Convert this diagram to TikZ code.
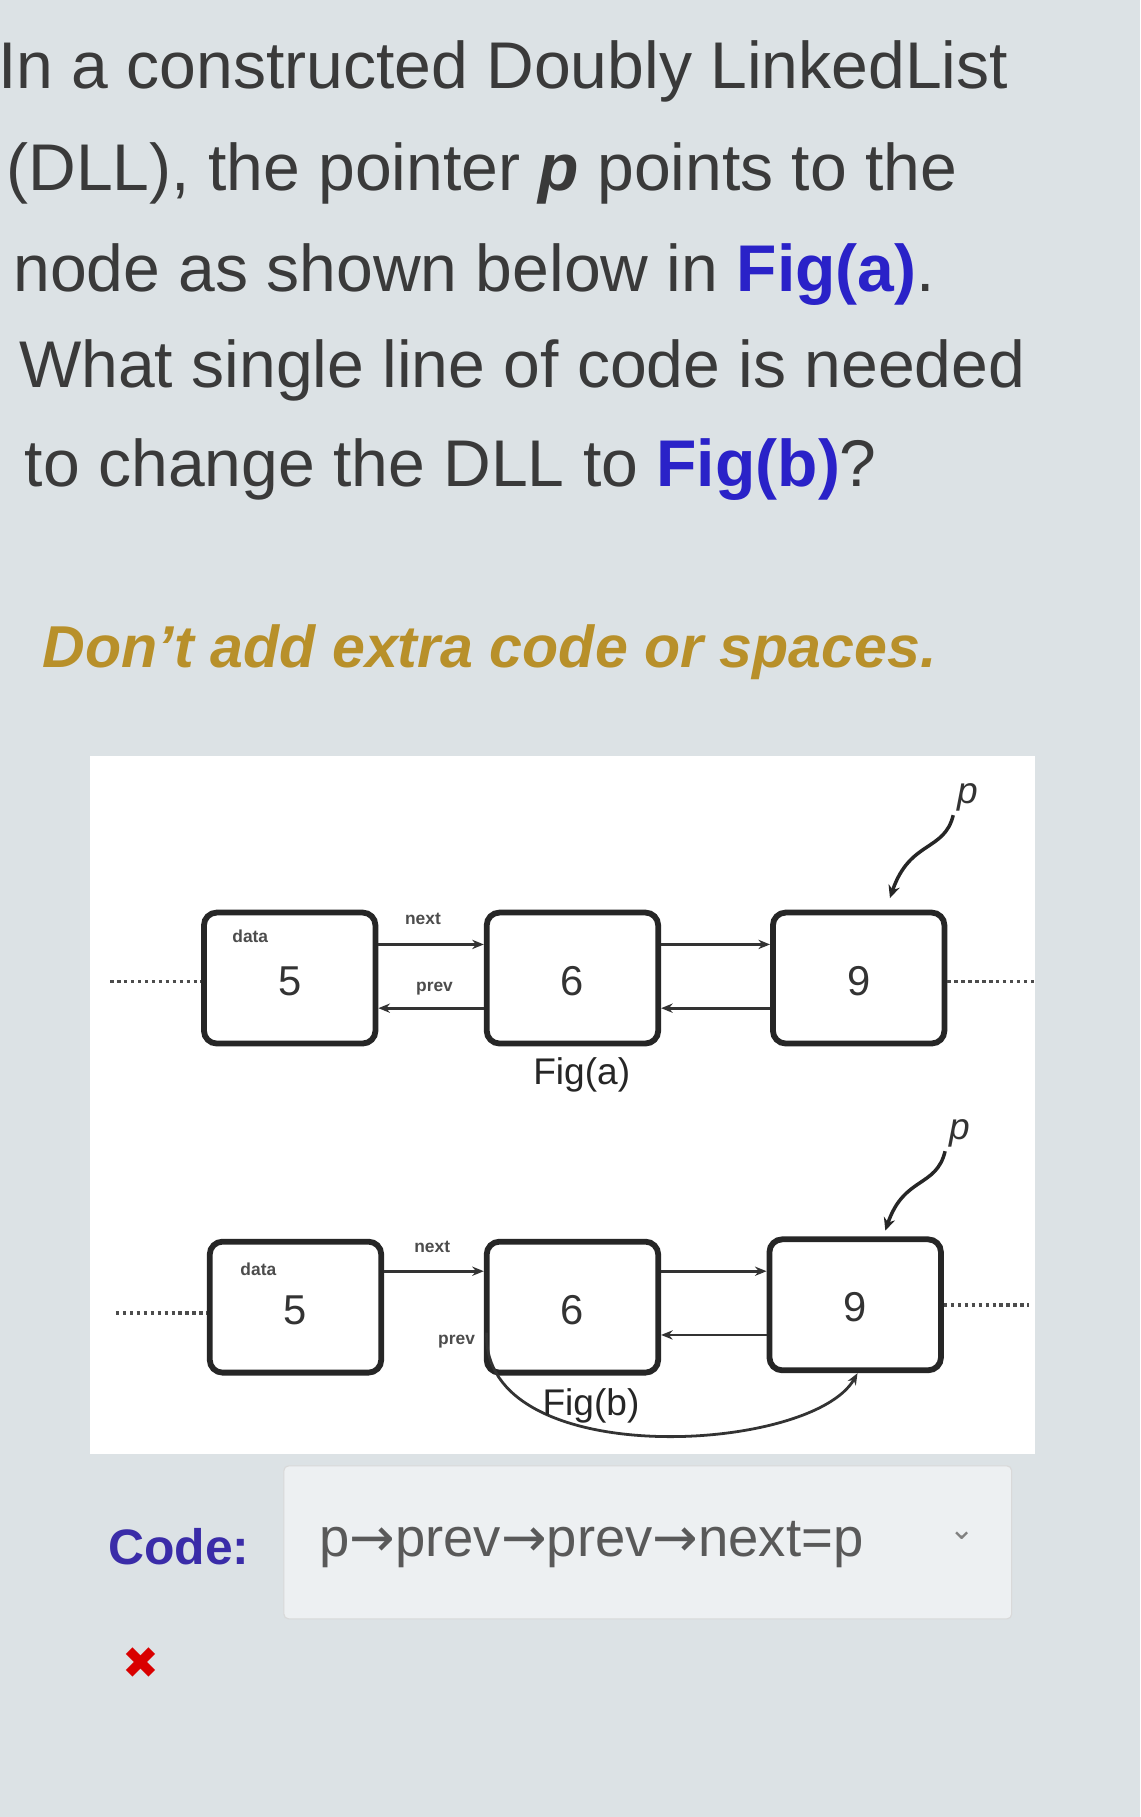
\documentclass[tikz,border=0pt]{standalone}
\usepackage{fontspec}
\setmainfont{Liberation Sans}
\newfontfamily\dv{DejaVu Sans}
\usetikzlibrary{arrows.meta}
\definecolor{bg}{HTML}{DCE2E5}
\definecolor{qtxt}{HTML}{3A3A3A}
\definecolor{figblue}{HTML}{2A22C8}
\definecolor{gold}{HTML}{B8902A}
\definecolor{codepurple}{HTML}{3A2CA8}
\tikzset{
 lbox/.style={draw=black!85,line width=5pt,rounded corners=11pt,fill=white,minimum width=148pt,minimum height=113pt},
 ptr/.style={line width=2.4pt,black!80,-{Stealth[length=10pt,width=8pt]}},
 qline/.style={anchor=west,font=\fontsize{57}{62}\selectfont,text=qtxt},
 small/.style={font=\bfseries\fontsize{15}{17}\selectfont,text=black!70},
 dotl/.style={line width=3pt,dash pattern=on 3pt off 3pt,black!70},
 val/.style={font=\fontsize{36}{38}\selectfont,text=black!80},
}
\begin{document}
\begin{tikzpicture}[x=1pt,y=-1pt]
\fill[bg] (0,0) rectangle (984,1568);
\useasboundingbox (0,0) rectangle (984,1568);
\node[qline] (l1) at (-5,62) {In a constructed Doubly LinkedList};
\node[qline] (l2) at (2,150) {(DLL), the pointer \textbf{\textit{p}} points to the};
\node[qline] (l3) at (8,237) {node as shown below in \textcolor{figblue}{\textbf{Fig(a)}}.};
\node[qline] (l4) at (13,320) {What single line of code is needed};
\node[qline] (l5) at (18,405) {to change the DLL to \textcolor{figblue}{\textbf{Fig(b)}}?};
\node[anchor=west,font=\bfseries\itshape\fontsize{51}{56}\selectfont,text=gold] (warn) at (33,563) {Don't add extra code or spaces.};
% diagram panel
\fill[white] (78,652) rectangle (893,1255);
% Fig a
\node[lbox] (a1) at (250,844) {};
\node[lbox] (a2) at (494,844) {};
\node[lbox] (a3) at (741,844) {};
\node[small,anchor=west] (d1) at (197,808) {data};
\node[val] (v1) at (250,847) {5};
\node[val] (v2) at (494,847) {6};
\node[val] (v3) at (741,847) {9};
\draw[ptr] (a1.east|-0,815) -- (a2.west|-0,815);
\draw[ptr] (a2.west|-0,870) -- (a1.east|-0,870);
\draw[ptr] (a2.east|-0,815) -- (a3.west|-0,815);
\draw[ptr] (a3.west|-0,870) -- (a2.east|-0,870);
\node[small] (nx) at (365,793) {next};
\node[small,fill=white,inner sep=1pt] (pv) at (375,853) {prev};
\coordinate (dl1) at (95,847); \coordinate (dr1) at (893,847);
\draw[dotl] (dl1) -- (a1.west|-dl1);
\draw[dotl] (a3.east|-dr1) -- (dr1);
\node[font=\fontsize{32}{34}\selectfont\itshape,text=black!80] (pa) at (835,688) {p};
\draw[line width=3pt,black!85,-{Stealth[length=11pt,width=10pt]}] (pa.south west) .. controls (815,735) and (785,725) .. (768,775);
\node[font=\fontsize{32}{34}\selectfont,text=black!85] (fa) at (502,928) {Fig(a)};
% Fig b
\node[lbox] (b1) at (255,1128) {};
\node[lbox] (b2) at (494,1128) {};
\node[lbox] (b3) at (738,1126) {};
\node[small,anchor=west] (d2) at (204,1095) {data};
\node[val] (w1) at (255,1131) {5};
\node[val] (w2) at (494,1131) {6};
\node[val] (w3) at (738,1128) {9};
\draw[ptr] (b1.east|-0,1097) -- (b2.west|-0,1097);
\draw[ptr] (b2.east|-0,1097) -- (b3.west|-0,1097);
\draw[ptr] (b3.west|-0,1152) -- (b2.east|-0,1152);
\node[small] (nx2) at (373,1076) {next};
\node[small] (pv2) at (394,1158) {prev};
\coordinate (cs) at (420,1150);
\draw[ptr] (cs) .. controls (415,1270) and (700,1255) .. (740,1185);
\coordinate (dl2) at (100,1133); \coordinate (dr2) at (888,1126);
\draw[dotl] (dl2) -- (b1.west|-dl2);
\draw[dotl] (b3.east|-dr2) -- (dr2);
\node[font=\fontsize{32}{34}\selectfont\itshape,text=black!80] (pb) at (828,978) {p};
\draw[line width=3pt,black!85,-{Stealth[length=11pt,width=10pt]}] (pb.south west) .. controls (808,1025) and (780,1015) .. (764,1062);
\node[font=\fontsize{32}{34}\selectfont,text=black!85] (fb) at (510,1213) {Fig(b)};
% code
\node[anchor=west,font=\bfseries\fontsize{43}{47}\selectfont,text=codepurple] (code) at (90,1335) {Code:};
\draw[draw=black!15,fill=bg!50!white,rounded corners=4pt,line width=1pt] (245,1265) rectangle (873,1397);
\node[anchor=west,font=\fontsize{47}{51}\selectfont,text=black!65] (ans) at (272,1333) {p{\dv →}prev{\dv →}prev{\dv →}next=p};
\node[font=\fontsize{26}{28}\selectfont,text=black!50] (chev) at (830,1325) {\dv ⌄};
\node[font=\bfseries\fontsize{38}{40}\selectfont,text=red!85!black] (x) at (122,1435) {\dv ✖};
\end{tikzpicture}
\end{document}
